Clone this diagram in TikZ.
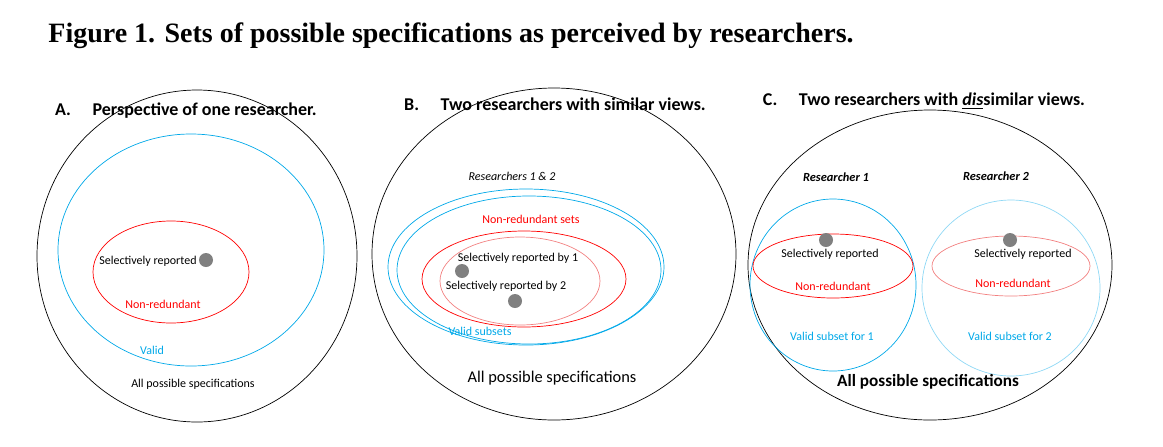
\documentclass[tikz,border=0pt]{standalone}
\usepackage{fontspec}
\setmainfont{Carlito}
\newfontfamily\timesf{Liberation Serif}
\definecolor{vblue}{HTML}{00A8E8}
\definecolor{lblue}{HTML}{8FD8F5}
\definecolor{lred}{HTML}{F28080}
\begin{document}
\begin{tikzpicture}[x=0.5pt,y=-0.5pt,
 big/.style={draw=black,line width=0.35pt},
 bl/.style={draw=vblue,line width=0.35pt},
 lbl/.style={draw=lblue,line width=0.35pt},
 rd/.style={draw=red,line width=0.35pt},
 lrd/.style={draw=lred,line width=0.35pt},
 dot/.style={circle,fill=gray,inner sep=0pt,minimum width=7pt,minimum height=6pt},
 t/.style={font=\fontsize{6}{7}\selectfont,inner sep=0pt},
 head/.style={font=\bfseries\fontsize{9}{10}\selectfont,inner sep=0pt}]
\useasboundingbox (0,0) rectangle (1163,446);
\node[inner sep=0pt,anchor=west,font=\timesf\bfseries\fontsize{14}{16}\selectfont] (title) at (48,36) {Figure 1. Sets of possible specifications as perceived by researchers.};
% A
\node[head] (ha) at (186,111) {A.\hspace{1.2em}Perspective of one researcher.};
\draw[big] (197,256) ellipse [x radius=160,y radius=166];
\draw[bl] (191,250) ellipse [x radius=133,y radius=116];
\draw[rd] (171,272) ellipse [x radius=78,y radius=51];
\node[dot] (da) at (206,260) {};
\node[t] (sa) at (148,261) {Selectively reported};
\node[t,text=red] (na) at (163,304) {Non-redundant};
\node[t,text=vblue] (va) at (152,350) {Valid};
\node[t] (aa) at (193,384) {All possible specifications};
% B
\node[head] (hb) at (555,104) {B.\hspace{1.2em}Two researchers with similar views.};
\draw[big] (554,254) ellipse [x radius=182,y radius=166];
\draw[bl] (526,267) ellipse [x radius=138,y radius=78];
\draw[bl] (529,270) ellipse [x radius=132,y radius=74];
\draw[rd] (524,279) ellipse [x radius=102,y radius=48];
\draw[lrd] (520,281) ellipse [x radius=80,y radius=44];
\node[dot] (db1) at (462,271) {};
\node[dot] (db2) at (515,301) {};
\node[t,font=\itshape\fontsize{6}{7}\selectfont] (rb) at (512,176) {Researchers 1 \& 2};
\node[t,text=red] (nb) at (531,219) {Non-redundant sets};
\node[t] (sb1) at (518,258) {Selectively reported by 1};
\node[t] (sb2) at (506,286) {Selectively reported by 2};
\node[t,text=vblue] (vb) at (480,331) {Valid subsets};
\node[t,font=\fontsize{8.2}{9}\selectfont] (ab) at (552,378) {All possible specifications};
% C
\node[head] (hc) at (924,101) {C.\hspace{1.2em}Two researchers with \underline{\textit{dis}}similar views.};
\draw[big] (930,265) ellipse [x radius=182,y radius=155];
\draw[bl] (833,285) ellipse [x radius=83,y radius=86];
\draw[rd] (833,266) ellipse [x radius=80,y radius=32];
\draw[lbl] (1011,288) ellipse [x radius=89,y radius=88];
\draw[lrd] (1011,266) ellipse [x radius=79,y radius=30];
\node[dot] (dc1) at (826,240) {};
\node[dot] (dc2) at (1010,240) {};
\node[t,font=\bfseries\itshape\fontsize{6.2}{7}\selectfont] (r1) at (836,177) {Researcher 1};
\node[t,font=\bfseries\itshape\fontsize{6.2}{7}\selectfont] (r2) at (996,176) {Researcher 2};
\node[t] (sc1) at (830,254) {Selectively reported};
\node[t,text=red] (nc1) at (833,286) {Non-redundant};
\node[t] (sc2) at (1023,254) {Selectively reported};
\node[t,text=red] (nc2) at (1013,283) {Non-redundant};
\node[t,text=vblue] (vc1) at (832,336) {Valid subset for 1};
\node[t,text=vblue] (vc2) at (1010,336) {Valid subset for 2};
\node[t,font=\bfseries\fontsize{8.6}{9}\selectfont] (ac) at (928,382) {All possible specifications};
\end{tikzpicture}
\end{document}
